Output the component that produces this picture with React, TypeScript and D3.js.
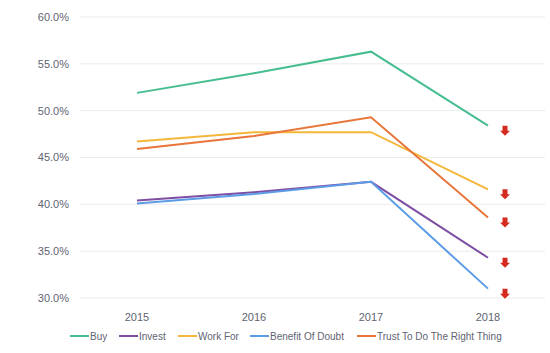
import React from "react";
import * as d3 from "d3";

const years = ["2015", "2016", "2017", "2018"];
const yTicks = [30, 35, 40, 45, 50, 55, 60];

const buy = [51.9, 54.0, 56.3, 48.4];
const invest = [40.4, 41.3, 42.4, 34.3];
const workFor = [46.7, 47.7, 47.7, 41.6];
const benefitOfDoubt = [40.1, 41.1, 42.4, 31.0];
const trust = [45.9, 47.3, 49.3, 38.6];

const seriesNames = ["Buy", "Invest", "Work For", "Benefit Of Doubt", "Trust To Do The Right Thing"];
const seriesColors = ["#45bd8f", "#7d4ea3", "#f4b73a", "#5c9ce6", "#e8763a"];
const seriesValues = [buy, invest, workFor, benefitOfDoubt, trust];

const W = 550;
const H = 353;
const FONT = "'Liberation Sans', Arial, sans-serif";

export default function App() {
  const x = d3.scalePoint<string>().domain(years).range([137, 488]);
  const y = d3.scaleLinear().domain([30, 60]).range([298, 17]);
  const line = d3
    .line<number>()
    .x((_, i) => x(years[i]) as number)
    .y((d) => y(d));

  const legendX = [70, 119, 178, 250, 357];
  const arrowX = (x(years[3]) as number) + 17;

  return (
    <svg
      width={W}
      height={H}
      style={{ position: "absolute", left: 0, top: 0, background: "#fff" }}
      fontFamily={FONT}
    >
      {yTicks.map((t) => (
        <g key={t}>
          <line x1={80} x2={545} y1={y(t)} y2={y(t)} stroke="#ebebeb" strokeWidth={1} />
          <text x={69} y={y(t)} dy="0.35em" textAnchor="end" fontSize={11} fill="#5f6472">
            {t.toFixed(1)}%
          </text>
        </g>
      ))}
      {years.map((yr) => (
        <text key={yr} x={x(yr)} y={317} dy="0.35em" textAnchor="middle" fontSize={11} fill="#5f6472">
          {yr}
        </text>
      ))}
      {seriesValues.map((vals, i) => (
        <path key={i} d={line(vals) ?? ""} fill="none" stroke={seriesColors[i]} strokeWidth={2} />
      ))}
      {seriesValues.map((vals, i) => {
        const cy = y(vals[3]) + 5;
        return (
          <path
            key={"a" + i}
            transform={`translate(${arrowX},${cy})`}
            d="M-2.5,-5 L2.5,-5 L2.5,0 L5,0 L0,5 L-5,0 L-2.5,0 Z"
            fill="#d42a1f"
          />
        );
      })}
      {seriesNames.map((name, i) => (
        <g key={name} transform={`translate(${legendX[i]},336)`}>
          <line x1={0} x2={19} y1={0} y2={0} stroke={seriesColors[i]} strokeWidth={2} />
          <text x={20} y={0} dy="0.35em" fontSize={10} fill="#5f6472">
            {name}
          </text>
        </g>
      ))}
    </svg>
  );
}
